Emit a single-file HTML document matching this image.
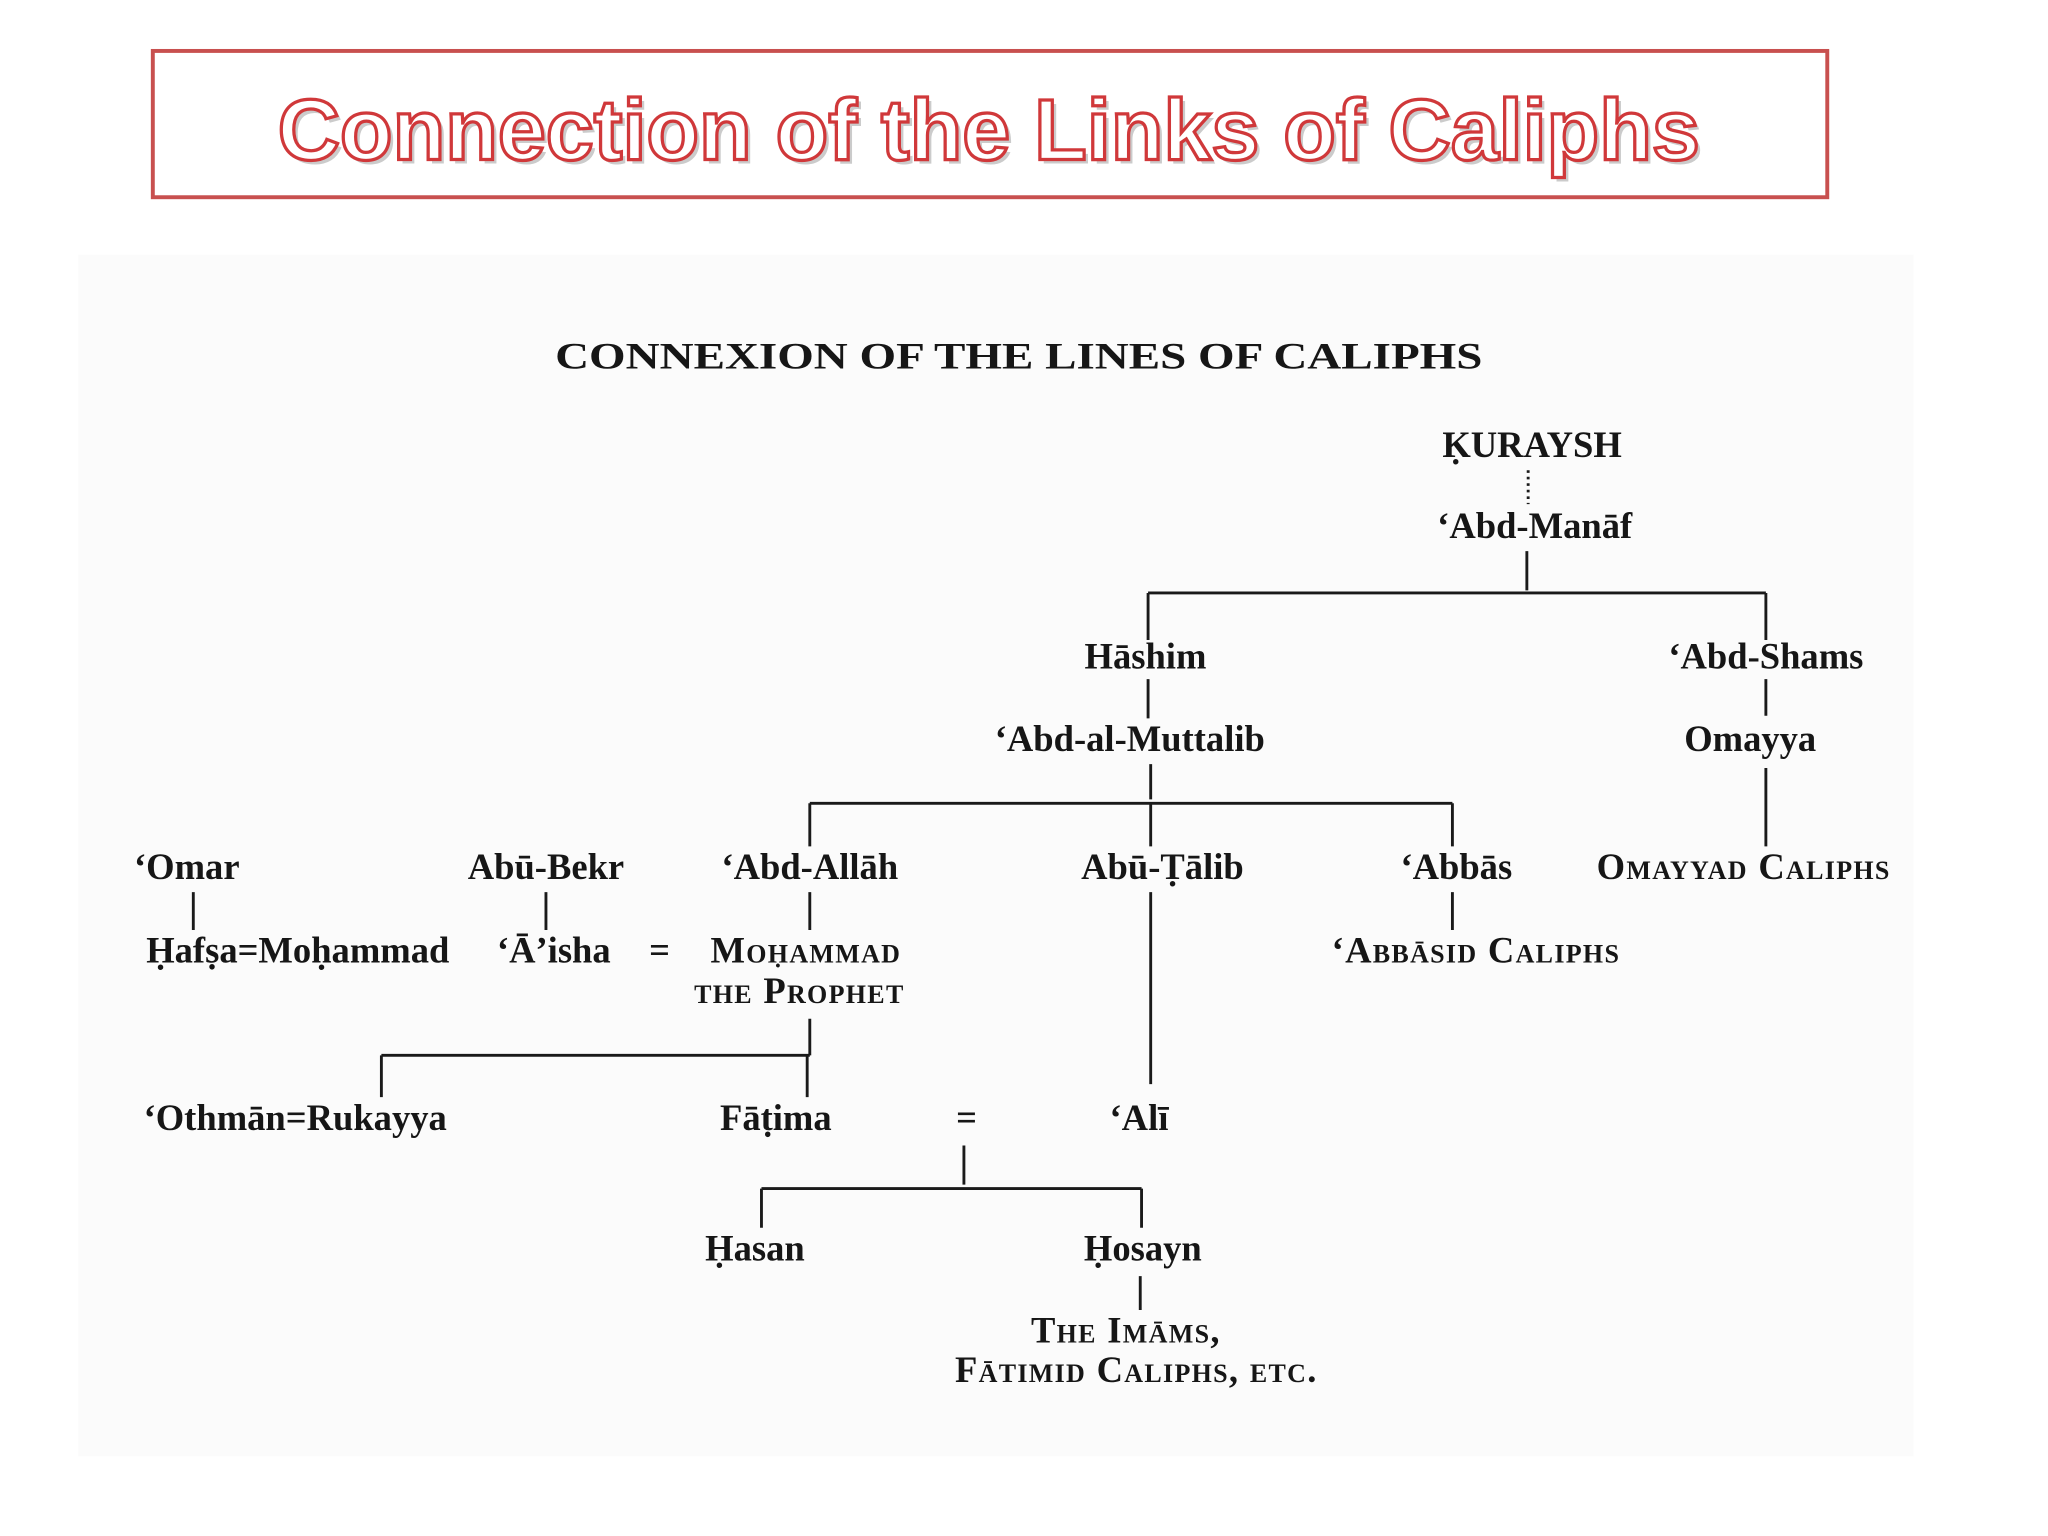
<!DOCTYPE html>
<html><head><meta charset="utf-8"><style>
html,body{margin:0;padding:0;background:#fff;}
svg{display:block;}
.t{font-family:"Liberation Serif",serif;font-weight:bold;font-size:28px;fill:#161616;text-anchor:middle;}
.sc{font-variant:small-caps;letter-spacing:1px;}
.l{stroke:#1a1a1a;stroke-width:2.2;fill:none;}
</style></head><body>
<svg width="2048" height="1536" viewBox="0 0 1568 1176" preserveAspectRatio="none" xmlns="http://www.w3.org/2000/svg">
<rect x="60" y="195" width="1405" height="920" fill="#fbfbfb"/>
<rect x="117" y="39" width="1282" height="112" fill="#fff" stroke="#c8504f" stroke-width="3"/>
<text x="760" y="125" text-anchor="middle" font-family="Liberation Sans, sans-serif" font-weight="bold" font-size="66" fill="#999" opacity="0.5">Connection of the Links of Caliphs</text>
<text x="757" y="122" text-anchor="middle" font-family="Liberation Sans, sans-serif" font-weight="bold" font-size="66" fill="#fff" stroke="#d0383a" stroke-width="2.5">Connection of the Links of Caliphs</text>
<text x="780" y="282" class="t" font-size="31" textLength="710" lengthAdjust="spacingAndGlyphs">CONNEXION  OF  THE  LINES  OF  CALIPHS</text>

<text x="1173" y="350" class="t">ḲURAYSH</text>
<line x1="1170" y1="360" x2="1170" y2="386" class="l" stroke-dasharray="2,3"/>
<text x="1175" y="412" class="t">‘Abd-Manāf</text>
<path class="l" d="M1169 422V452M879 454H1352M879 454V490M1352 454V490"/>
<text x="877" y="512" class="t">Hāshim</text>
<text x="1352" y="512" class="t">‘Abd-Shams</text>
<path class="l" d="M879 520V550M1352 520V548M1352 588V648M881 585V612M620 615H1112M620 615V648M881 615V648M1112 615V648"/>
<text x="865" y="575" class="t">‘Abd-al-Muttalib</text>
<text x="1340" y="575" class="t">Omayya</text>
<text x="1335" y="673" class="t sc">Omayyad Caliphs</text>
<text x="143" y="673" class="t">‘Omar</text>
<text x="418" y="673" class="t">Abū-Bekr</text>
<text x="620" y="673" class="t">‘Abd-Allāh</text>
<text x="890" y="673" class="t">Abū-Ṭālib</text>
<text x="1115" y="673" class="t">‘Abbās</text>
<path class="l" d="M148 683V712M418 683V712M620 683V712M1112 683V712M881 683V830"/>
<text x="228" y="737" class="t">Ḥafṣa=Moḥammad</text>
<text x="424" y="737" class="t">‘Ā’isha</text>
<text x="505" y="737" class="t">=</text>
<text x="617" y="737" class="t sc">Moḥammad</text>
<text x="612" y="768" class="t sc">the Prophet</text>
<text x="1130" y="737" class="t sc">‘Abbāsid Caliphs</text>
<path class="l" d="M620 780V808M292 808H620M292 808V840M618 808V840"/>
<text x="226" y="865" class="t">‘Othmān=Rukayya</text>
<text x="594" y="865" class="t">Fāṭima</text>
<text x="740" y="865" class="t">=</text>
<text x="872" y="865" class="t">‘Alī</text>
<path class="l" d="M738 877V907M583 910H874M583 910V940M874 910V940M873 977V1003"/>
<text x="578" y="965" class="t">Ḥasan</text>
<text x="875" y="965" class="t">Ḥosayn</text>
<text x="862" y="1028" class="t sc">The Imāms,</text>
<text x="870" y="1058" class="t sc">Fātimid Caliphs, etc.</text>
</svg>
</body></html>
